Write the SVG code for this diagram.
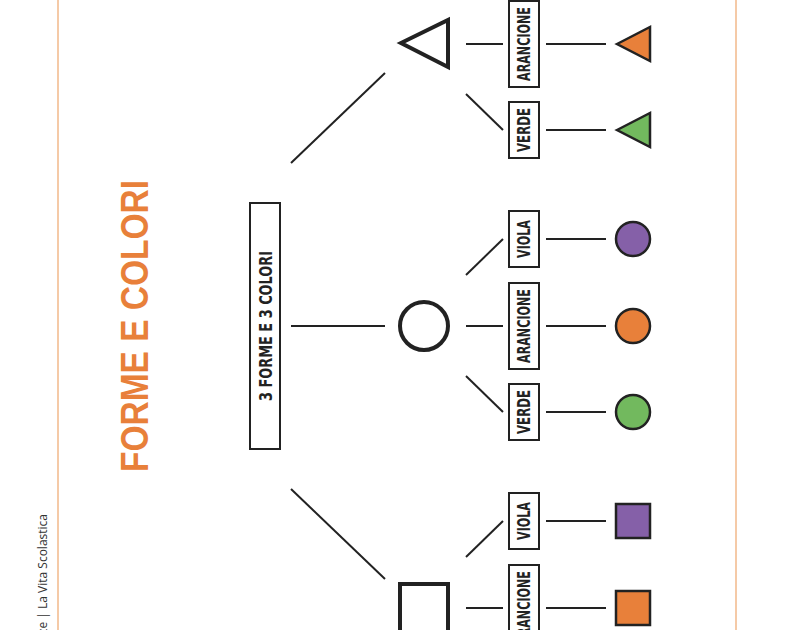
<svg xmlns="http://www.w3.org/2000/svg" width="788" height="630" viewBox="0 0 788 630">
<style>
.frame{stroke:#F2B88A;stroke-width:1.5}
.c{stroke:#222;stroke-width:2;fill:none}
.box{fill:#fff;stroke:#222;stroke-width:2}
.lbl{font-family:"DejaVu Sans Condensed","DejaVu Sans",sans-serif;font-weight:bold;font-size:17px;fill:#222;text-anchor:middle}
.big{stroke:#222;stroke-width:4;fill:#fff}
.sm{stroke:#222;stroke-width:2.5}
.o{fill:#E8803A}.g{fill:#72B95E}.p{fill:#8560A8}
</style>
<rect width="788" height="630" fill="#fff"/>
<line class="frame" x1="58" y1="0" x2="58" y2="630"/>
<line class="frame" x1="736" y1="0" x2="736" y2="630"/>
<text transform="translate(47,514) rotate(-90)" font-family="Open Sans,sans-serif" font-size="12" fill="#333" text-anchor="end">enze | La Vita Scolastica</text>
<text transform="translate(148,326) rotate(-90)" font-family="Liberation Sans,sans-serif" font-weight="bold" font-size="38" fill="#E8803A" text-anchor="middle" textLength="292" lengthAdjust="spacingAndGlyphs">FORME E COLORI</text>
<g id="connectors" class="c">
<line x1="291" y1="163" x2="385" y2="73"/><line x1="291" y1="326" x2="385" y2="326"/><line x1="291" y1="489" x2="385" y2="579"/>
<line x1="466" y1="44" x2="503" y2="44"/><line x1="466" y1="94" x2="503" y2="130"/>
<line x1="466" y1="275" x2="503" y2="239"/><line x1="466" y1="326" x2="503" y2="326"/><line x1="466" y1="376" x2="503" y2="412"/>
<line x1="466" y1="557" x2="503" y2="521"/><line x1="466" y1="608" x2="503" y2="608"/>
<line x1="546" y1="44" x2="606" y2="44"/><line x1="546" y1="130" x2="606" y2="130"/>
<line x1="546" y1="239" x2="606" y2="239"/><line x1="546" y1="326" x2="606" y2="326"/><line x1="546" y1="412" x2="606" y2="412"/>
<line x1="546" y1="521" x2="606" y2="521"/><line x1="546" y1="608" x2="606" y2="608"/>
</g>
<g id="root"><rect class="box" x="250" y="203" width="30" height="246"/><text class="lbl" transform="translate(272,326) rotate(-90)" textLength="150" lengthAdjust="spacingAndGlyphs" font-size="19">3 FORME E 3 COLORI</text></g>
<g id="triangle"><polygon class="big" points="401,43 448,20 448,67"/></g>
<g id="circle"><circle class="big" cx="424" cy="326" r="24"/></g>
<g id="square"><rect class="big" x="400" y="584" width="48" height="60"/></g>
<g id="l1"><rect class="box" x="509" y="1" width="30" height="86"/><text class="lbl" transform="translate(530,44) rotate(-90)" textLength="74" lengthAdjust="spacingAndGlyphs">ARANCIONE</text></g>
<g id="l2"><rect class="box" x="509" y="102" width="30" height="56"/><text class="lbl" transform="translate(530,130) rotate(-90)" textLength="44" lengthAdjust="spacingAndGlyphs">VERDE</text></g>
<g id="l3"><rect class="box" x="509" y="211" width="30" height="56"/><text class="lbl" transform="translate(530,239) rotate(-90)" textLength="38" lengthAdjust="spacingAndGlyphs">VIOLA</text></g>
<g id="l4"><rect class="box" x="509" y="283" width="30" height="86"/><text class="lbl" transform="translate(530,326) rotate(-90)" textLength="74" lengthAdjust="spacingAndGlyphs">ARANCIONE</text></g>
<g id="l5"><rect class="box" x="509" y="384" width="30" height="56"/><text class="lbl" transform="translate(530,412) rotate(-90)" textLength="44" lengthAdjust="spacingAndGlyphs">VERDE</text></g>
<g id="l6"><rect class="box" x="509" y="493" width="30" height="56"/><text class="lbl" transform="translate(530,521) rotate(-90)" textLength="38" lengthAdjust="spacingAndGlyphs">VIOLA</text></g>
<g id="l7"><rect class="box" x="509" y="565" width="30" height="86"/><text class="lbl" transform="translate(530,608) rotate(-90)" textLength="74" lengthAdjust="spacingAndGlyphs">ARANCIONE</text></g>
<g id="s1"><polygon class="sm o" points="617,44 650,27 650,61"/></g>
<g id="s2"><polygon class="sm g" points="617,130 650,113 650,147"/></g>
<g id="s3"><circle class="sm p" cx="633" cy="239" r="17"/></g>
<g id="s4"><circle class="sm o" cx="633" cy="326" r="17"/></g>
<g id="s5"><circle class="sm g" cx="633" cy="412" r="17"/></g>
<g id="s6"><rect class="sm p" x="616" y="504" width="34" height="34"/></g>
<g id="s7"><rect class="sm o" x="616" y="591" width="34" height="34"/></g>
</svg>
